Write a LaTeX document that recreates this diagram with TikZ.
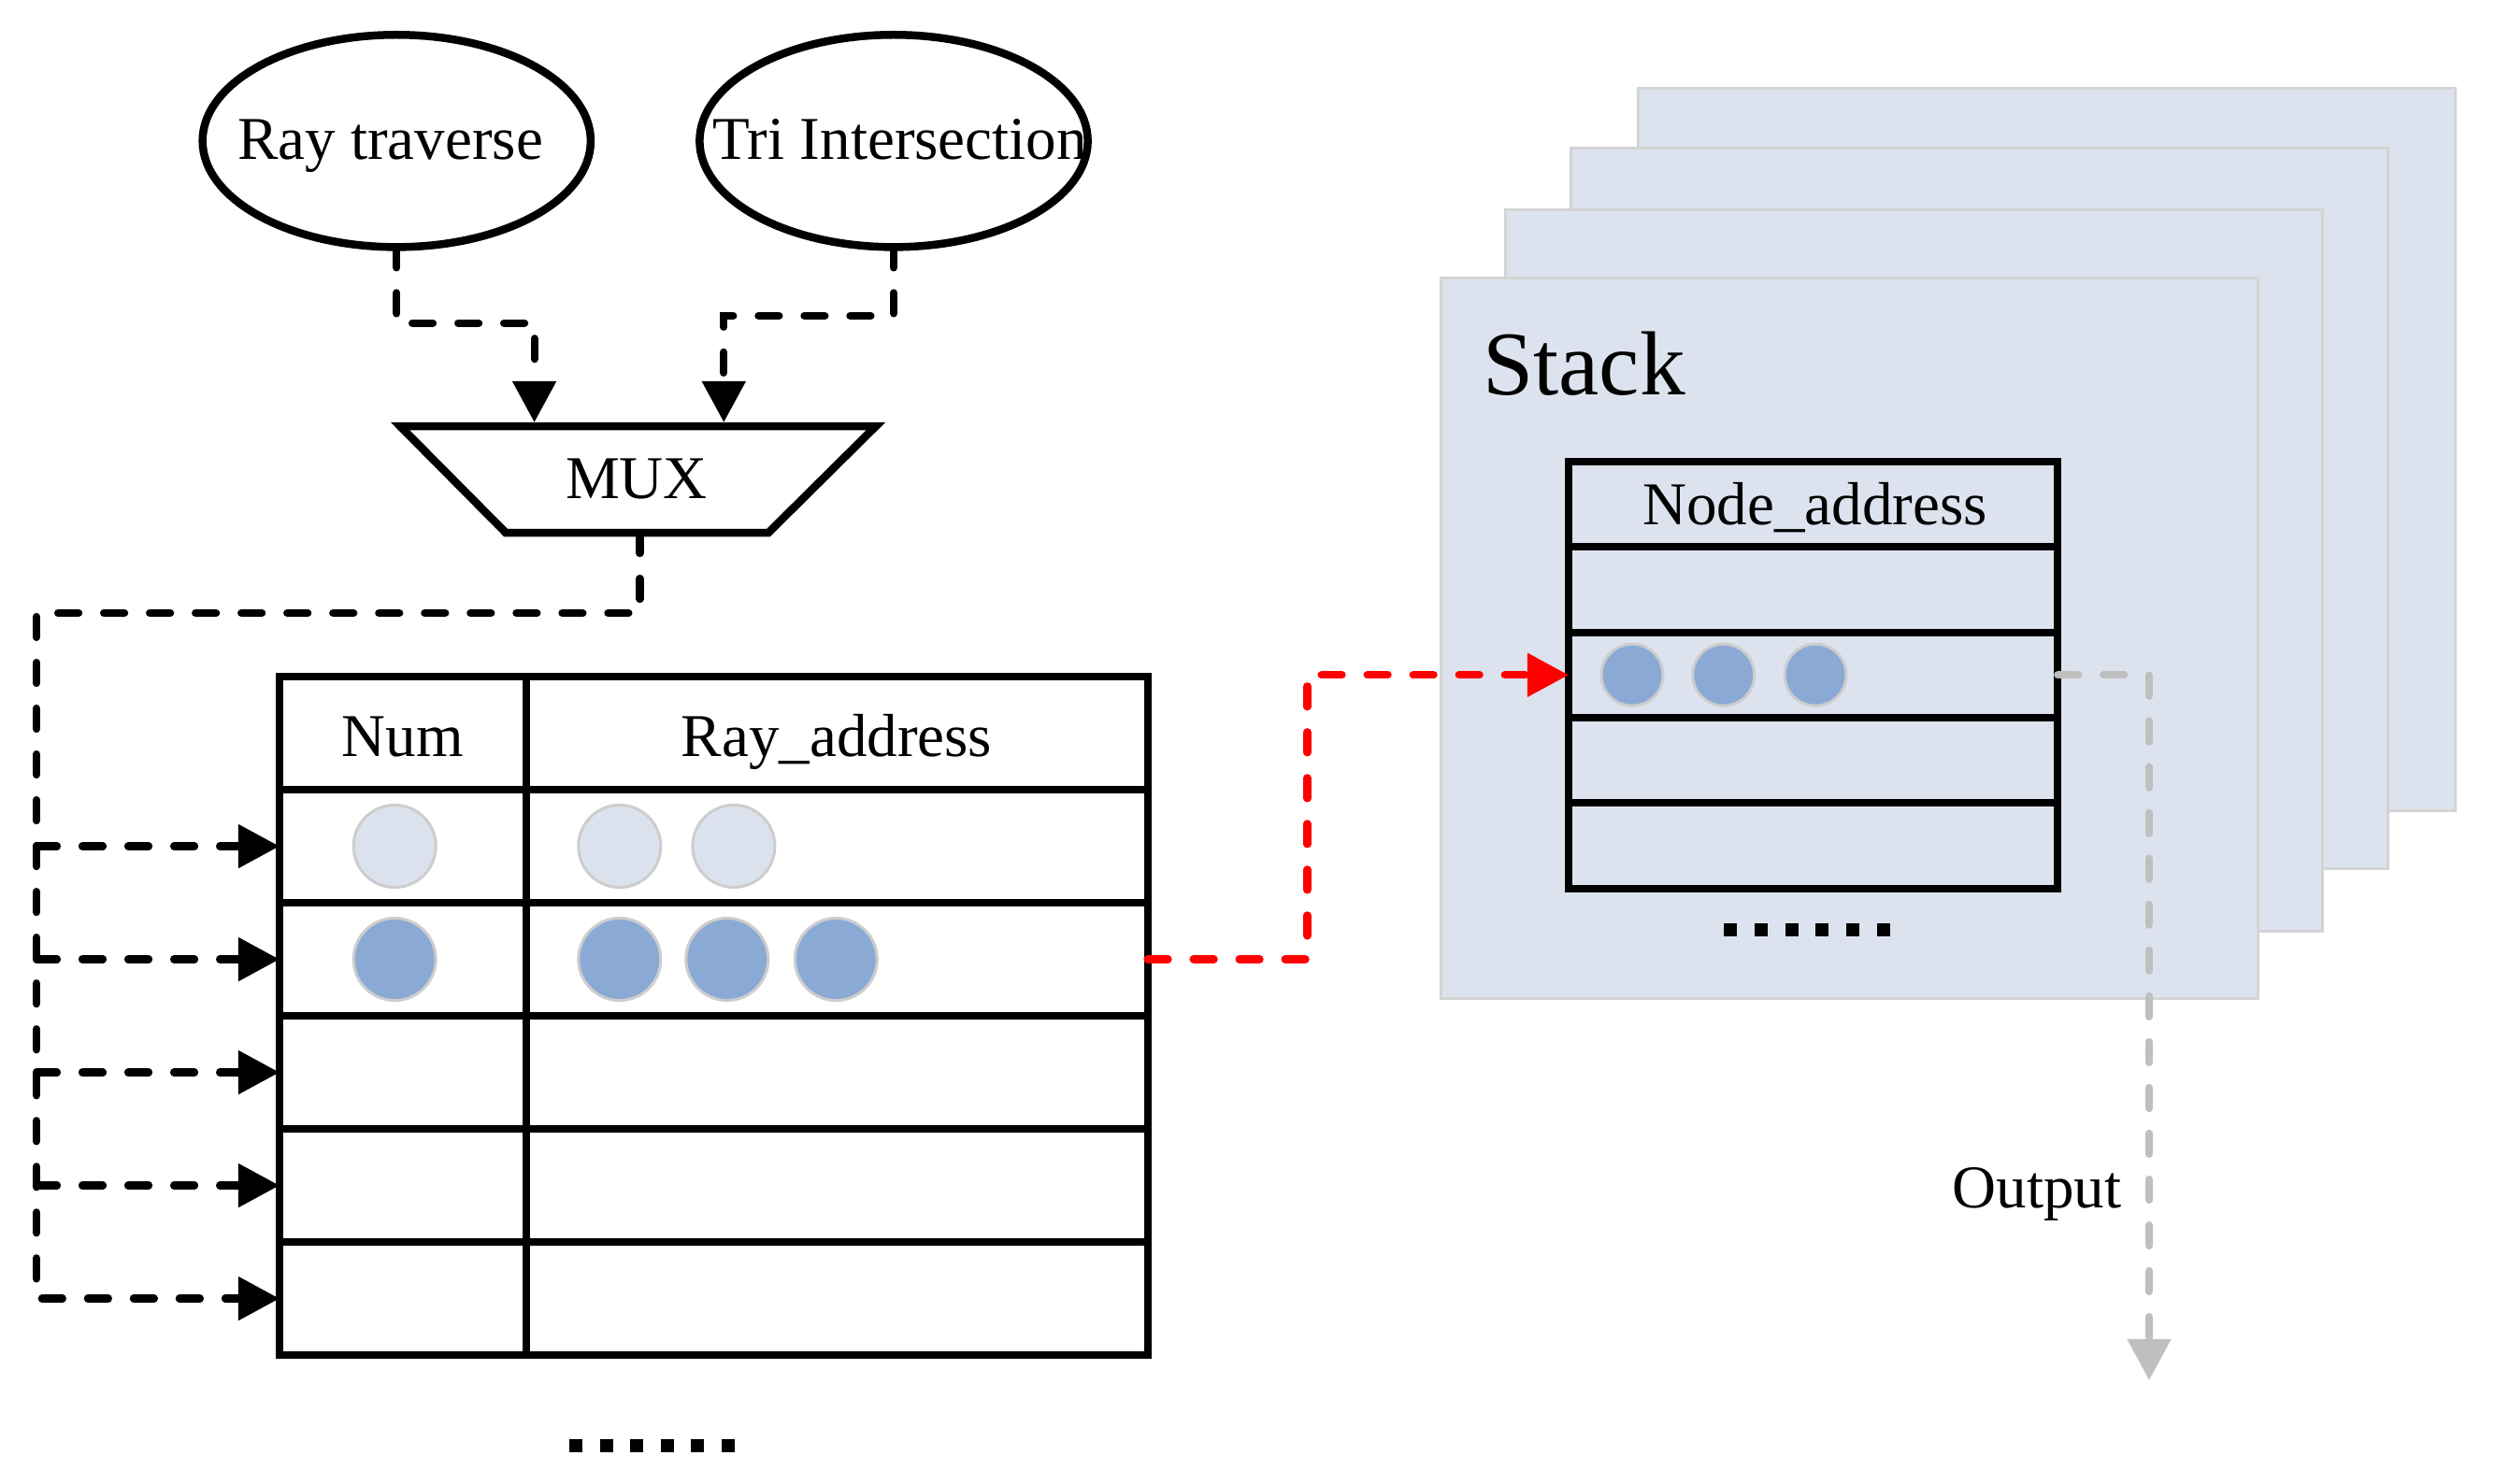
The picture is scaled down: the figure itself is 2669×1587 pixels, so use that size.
\documentclass[tikz,border=0pt]{standalone}
\usepackage{fontspec}
\setmainfont{Liberation Serif}
\usetikzlibrary{arrows.meta,shapes.geometric}
\definecolor{stackfill}{RGB}{221,227,238}
\definecolor{stackedge}{RGB}{212,212,212}
\definecolor{lightc}{RGB}{220,226,237}
\definecolor{darkc}{RGB}{138,170,213}
\definecolor{circb}{RGB}{205,205,205}
\definecolor{outgray}{RGB}{191,191,191}
\tikzset{
  tl/.style={draw=black, line width=0.08cm},
  dl/.style={line width=0.082cm, line cap=round, dash pattern=on 0.22cm off 0.27cm},
  arrtip/.style={-{Triangle[length=0.44cm,width=0.45cm]}},
  lbl/.style={font=\fontsize{18.5}{22}\selectfont, inner sep=0pt},
  trow/.style={draw=black, line width=0.08cm, minimum width=9.28cm, minimum height=1.21cm, inner sep=0pt, outer sep=0pt, anchor=north west},
  srow/.style={draw=black, line width=0.08cm, minimum width=5.23cm, minimum height=0.913cm, inner sep=0pt, outer sep=0pt, anchor=north west},
  lcirc/.style={circle, fill=lightc, draw=circb, line width=0.03cm, minimum size=0.88cm, inner sep=0pt},
  dcirc/.style={circle, fill=darkc, draw=circb, line width=0.03cm, minimum size=0.88cm, inner sep=0pt},
  scirc/.style={circle, fill=darkc, draw=circb, line width=0.03cm, minimum size=0.66cm, inner sep=0pt},
  stackbg/.style={fill=stackfill, draw=stackedge, line width=0.03cm},
  dotrow/.style={line width=0.14cm, dash pattern=on 0.14cm off 0.186cm},
  ell/.style={ellipse, draw=black, line width=0.085cm, minimum width=4.15cm, minimum height=2.27cm, inner sep=0pt, outer sep=0pt}
}
\begin{document}
\begin{tikzpicture}[x=0.01cm,y=-0.01cm]
\path[use as bounding box] (0,0) rectangle (2669,1587);

% stack background sheets
\draw[stackbg] (1752,94.7) rectangle (2626.5,867.8);
\draw[stackbg] (1680.4,158.1) rectangle (2554.1,929.7);
\draw[stackbg] (1610.3,224.4) rectangle (2484.8,996);
\draw[stackbg] (1541,297.5) rectangle (2415.5,1068.4);
\node[font=\fontsize{27.7}{32}\selectfont, inner sep=0pt, anchor=base west] (stacklbl) at (1585.7,422.8) {Stack};

% ellipses
\node[ell] (rt) at (424.3,150.8) {};
\node[ell] (ti) at (956,150.8) {};
\node[lbl, anchor=base] (rttext) at (417.6,170.5) {Ray traverse};
\node[lbl, anchor=base] (titext) at (962.7,170.5) {Tri Intersection};

% MUX
\draw[tl, line width=0.085cm] (428,456) -- (937,456) -- (822,570) -- (541,570) -- cycle;
\node[lbl, anchor=base] (mux) at (681,533) {MUX};
\coordinate (m1) at (571.6,452);
\coordinate (m2) at (774.3,452);
\coordinate (mo) at (684.5,570);
\coordinate (bus) at (39,656);

\draw[dl, arrtip] (rt.south) -- ++(0,81.3) -| (m1);
\draw[dl, arrtip] (ti.south) -- ++(0,73.5) -| (m2);

% main table
\foreach \i in {0,...,5}{
  \node[trow] (trow\i) at (299,724+121*\i) {};
}
\draw[tl] ([xshift=2.64cm]trow0.north west) -- ([xshift=2.64cm]trow5.south west);
\node[lbl, anchor=base] (numtext) at (431,809) {Num};
\node[lbl, anchor=base] (raytext) at (895,809) {Ray\_address};

\node[lcirc] (c10) at (422.2,905.5) {};
\node[lcirc] (c11) at (662.8,905.5) {};
\node[lcirc] (c12) at (784.9,905.5) {};
\node[dcirc] (c20) at (422.2,1026.5) {};
\node[dcirc] (c21) at (662.8,1026.5) {};
\node[dcirc] (c22) at (777.8,1026.5) {};
\node[dcirc] (c23) at (894.3,1026.5) {};

% bus from MUX to rows
\draw[dl, arrtip] (mo) -- (mo |- bus) -- (bus) -- (trow5.west -| bus) -- (trow5.west);
\foreach \i in {1,...,4}{
  \draw[dl, arrtip] (trow\i.west -| bus) -- (trow\i.west);
}

\draw[dotrow] (609,1547) -- ++(177,0);

% stack table
\foreach \i in {0,...,4}{
  \node[srow] (srow\i) at (1678,494+91.3*\i) {};
}
\node[lbl, anchor=base] (nodetext) at (1941.5,561.4) {Node\_address};
\node[scirc] (s1) at (1746,722.2) {};
\node[scirc] (s2) at (1843.7,722.2) {};
\node[scirc] (s3) at (1942,722.2) {};
\draw[dotrow] (1844.4,995) -- ++(177.5,0);

% red connector
\draw[dl, draw=red, -{Triangle[length=0.44cm,width=0.45cm]}, red] (trow2.east) -- ++(171,0) |- (srow2.west);

% output connector
\coordinate (outend) at (2299,1477);
\draw[dl, draw=outgray, -{Triangle[length=0.44cm,width=0.45cm]}, outgray] (srow2.east) -| (outend);
\node[lbl, anchor=base] (outtext) at (2179,1292) {Output};
\end{tikzpicture}
\end{document}
